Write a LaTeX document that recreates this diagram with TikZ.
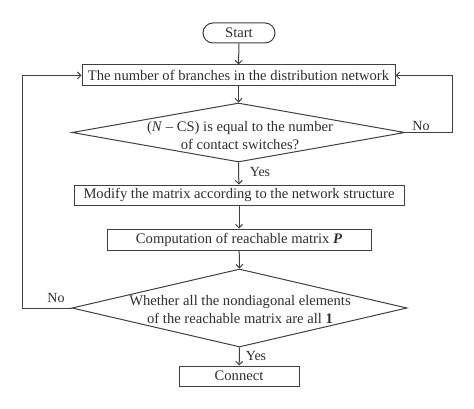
\documentclass[tikz,border=0pt]{standalone}
\usepackage{fontspec}
\setmainfont{Liberation Serif}
\usetikzlibrary{shapes.geometric,arrows.meta}
\definecolor{ln}{HTML}{404040}
\definecolor{tx}{HTML}{2E2E2E}
\begin{document}
\begin{tikzpicture}[x=1pt,y=-1pt,
  every node/.append style={text=tx,font=\fontsize{14.6}{18}\selectfont},
  conn/.style={draw=ln,line width=1pt,-{Straight Barb[length=3.5pt,width=7pt]}},
  procbox/.style={draw=ln,line width=1pt,rectangle,inner sep=0pt},
  startbox/.style={draw=ln,line width=1pt,rounded corners=10pt,inner sep=0pt},
  decision/.style={draw=ln,line width=1pt,diamond,inner sep=0pt},
  lbl/.style={inner sep=0pt,font=\fontsize{14}{16}\selectfont}]
\useasboundingbox (0,0) rectangle (474,409);
\node[startbox,minimum width=72pt,minimum height=20pt] (start) at (239,33) {Start};
\node[procbox,minimum width=313pt,minimum height=21pt] (b1) at (238.5,75.5) {The number of branches in the distribution network};
\node[decision,minimum width=333pt,minimum height=59pt] (d1) at (238.5,132.5) {};
\node[align=center,inner sep=0pt] (d1t) at (240,136) {(\textit{N} – CS) is equal to the number\\of contact switches?};
\node[procbox,minimum width=330pt,minimum height=20pt] (b2) at (239,195) {Modify the matrix according to the network structure};
\node[procbox,minimum width=264pt,minimum height=21pt] (b3) at (239,239.5) {Computation of reachable matrix \textbf{\textit{P}}};
\node[decision,minimum width=335pt,minimum height=78pt] (d2) at (239.5,308) {};
\node[align=center,inner sep=0pt] (d2t) at (240,310) {Whether all the nondiagonal elements\\of the reachable matrix are all \textbf{1}};
\node[procbox,minimum width=120pt,minimum height=20pt] (b4) at (239,376) {Connect};
\coordinate (rr) at (452,132.5);
\coordinate (ll) at (22,308);
\draw[conn] (start) -- (b1);
\draw[conn] (b1) -- (d1.north);
\draw[conn] (d1.south) -- (b2);
\draw[conn] (b2) -- (b3);
\draw[conn] (b3) -- (d2.north);
\draw[conn] (d2.south) -- (b4);
\draw[conn] (d1.east) -- (rr) |- (b1.east);
\draw[conn] (d2.west) -- (ll) |- (b1.west);
\node[lbl] (no1) at (421,126) {No};
\node[lbl] (no2) at (56,298) {No};
\node[lbl] (yes1) at (260,172) {Yes};
\node[lbl] (yes2) at (256,356) {Yes};
\end{tikzpicture}
\end{document}
